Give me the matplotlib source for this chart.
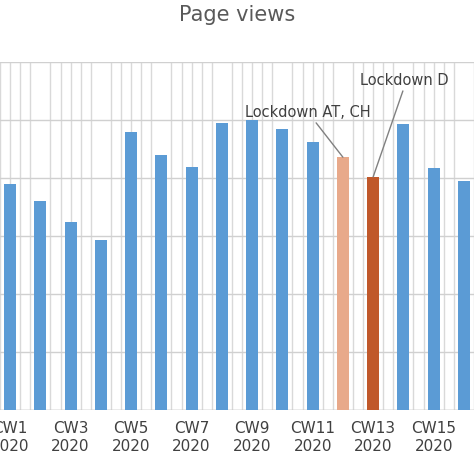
import matplotlib
matplotlib.use("Agg")
import matplotlib.pyplot as plt
import numpy as np

weeks = [f"CW{i}\n2020" for i in range(1, 17)]
views = [3.90, 3.60, 3.24, 2.93, 4.79, 4.40, 4.19, 4.95, 5.00, 4.84,
         4.62, 4.36, 4.02, 4.93, 4.17, 3.95]
colors = ["#5B9BD5"] * 16
colors[11] = "#E8A98A"
colors[12] = "#C0582A"

fig = plt.figure(figsize=(4.74, 4.74), dpi=100)
ax = fig.add_axes([0, 0.135, 1, 0.734])
x = np.arange(len(views))
ax.bar(x, views, width=0.4, color=colors, zorder=3)

ax.set_xlim(-0.32, 14.97)
ax.set_ylim(0, 6)
ax.set_yticks(np.arange(0, 7, 1))
ax.set_xticks(x[::2])
ax.set_xticklabels(weeks[::2], fontsize=11, color="#404040")
ax.set_xticks(np.concatenate([x - 1/3, x + 1/3]), minor=True)
ax.tick_params(axis="both", length=0, which="both")
ax.tick_params(axis="x", pad=8)
ax.set_yticklabels([])
ax.grid(True, axis="y", color="#D0D0D0", lw=1, zorder=0)
ax.grid(True, axis="x", which="both", color="#D9D9D9", lw=1, zorder=0)
for s in ax.spines.values():
    s.set_visible(False)
ax.axhline(0, color="#BFBFBF", lw=1, zorder=2)

fig.text(0.5, 0.968, "Page views", ha="center", va="center", fontsize=15, color="#595959")

ax.annotate("Lockdown AT, CH", xy=(11, views[11]), xytext=(9.85, 5.0),
            fontsize=10.5, color="#404040", ha="center", va="bottom",
            arrowprops=dict(arrowstyle="-", color="#808080", lw=1, shrinkA=0, shrinkB=0))
ax.annotate("Lockdown D", xy=(12, views[12]), xytext=(11.55, 5.55),
            fontsize=10.5, color="#404040", ha="left", va="bottom",
            arrowprops=dict(arrowstyle="-", color="#808080", lw=1, shrinkA=0, shrinkB=0,
                            relpos=(0.5, 0)))

fig.savefig("out.png", dpi=100)
